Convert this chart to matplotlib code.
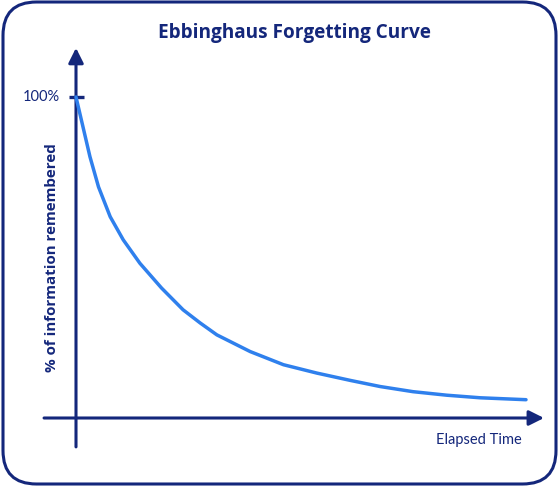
import numpy as np
import matplotlib.pyplot as plt
from matplotlib.patches import FancyBboxPatch

# forgetting curve (time in arbitrary units, % remembered)
elapsed = [0, 0.31, 0.5, 0.76, 1.05, 1.42, 1.9, 2.38, 2.76, 3.13, 3.87, 4.61,
           5.35, 6.1, 6.76, 7.49, 8.24, 8.98, 10]
remembered = [100, 81.4, 72.0, 62.7, 55.5, 48.2, 40.5, 33.7, 29.6, 25.9, 20.7, 16.6,
              14.0, 11.7, 9.8, 8.2, 7.1, 6.3, 5.7]

title = "Ebbinghaus Forgetting Curve"
ylabel = "% of information remembered"
xlabel = "Elapsed Time"
top_label = "100%"

navy = "#14277b"
blue = "#2f80ed"

plt.rcParams['font.family'] = ['Lato', 'DejaVu Sans']
bold_font = ['Open Sans', 'DejaVu Sans']

W, H = 558, 503
fig = plt.figure(figsize=(W / 100, H / 100), dpi=100)

# rounded frame
frame = FancyBboxPatch((3 / W, 19 / H), (W - 5) / W, (H - 21) / H,
                       boxstyle="round,pad=0,rounding_size=0.06",
                       transform=fig.transFigure, fill=False,
                       edgecolor=navy, linewidth=2.2, mutation_aspect=W / H)
fig.patches.append(frame)

ax = fig.add_axes([0, 0, 1, 1])
ax.set_facecolor("none")
# pixel mapping: t=0 at x=76, 45 px per unit; 0% at y=418, 100% at y=97
px_x, px_y = 45.0, 3.21
ax.set_xlim(-76 / px_x, (W - 76) / px_x)
ax.set_ylim((418 - H) / px_y, 418 / px_y)
ax.axis("off")

# axes with arrows
arrow = dict(arrowstyle="-|>,head_length=0.9,head_width=0.45", color=navy,
             lw=2.2, shrinkA=0, shrinkB=0)
ax.annotate("", xy=(0, 115.3), xytext=(0, -9), arrowprops=arrow)
ax.annotate("", xy=(10.4, 0), xytext=(-0.71, 0), arrowprops=arrow)
ax.plot([-0.16, 0.18], [100, 100], color=navy, lw=2.4, solid_capstyle="butt")

ax.plot(elapsed, remembered, color=blue, lw=2.5, solid_capstyle="round",
        solid_joinstyle="round", zorder=3)

ax.text(-0.35, 100, top_label, color=navy, fontsize=10.5, ha="right", va="center")
ax.text(9.9, -6.9, xlabel, color=navy, fontsize=10.5, ha="right", va="center")
ax.text(-0.53, 50.0, ylabel, color=navy, fontsize=10.9, fontweight="bold",
        family=bold_font, rotation=90, ha="center", va="center")
fig.text(294.5 / W, 1 - 33 / H, title, color=navy, fontsize=13.7, fontweight="bold",
         family=bold_font, ha="center", va="center")

fig.savefig("out.png", dpi=100)
